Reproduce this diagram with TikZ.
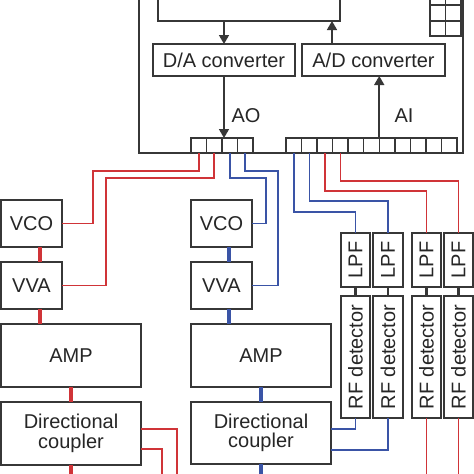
\documentclass[tikz,border=0pt]{standalone}
\usepackage{fontspec}
\setmainfont{Liberation Sans}
\usetikzlibrary{arrows.meta}
\definecolor{linec}{RGB}{55,55,55}
\definecolor{redc}{RGB}{208,52,56}
\definecolor{bluec}{RGB}{58,84,166}
\tikzset{
  blk/.style={draw=linec, line width=1.6pt, inner sep=0pt, outer sep=0pt, fill=white,
    font=\fontsize{20pt}{19.5pt}\selectfont, align=center, text=black!85},
  cell/.style={draw=linec, line width=1.4pt, inner sep=0pt, outer sep=0pt,
    minimum width=15.5pt, minimum height=15pt},
  redl/.style={draw=redc, line width=1.6pt},
  bluel/.style={draw=bluec, line width=1.6pt},
  redt/.style={draw=redc, line width=4.6pt},
  bluet/.style={draw=bluec, line width=4.6pt},
  blkt/.style={draw=linec, line width=2.6pt},
  arr/.style={draw=linec, line width=1.6pt, -{Triangle[width=10pt,length=9pt]}},
  lbl/.style={font=\fontsize{20pt}{15pt}\selectfont, text=black!85, inner sep=0pt}
}
\begin{document}
\begin{tikzpicture}[x=1pt,y=-1pt]
\useasboundingbox (0,0) rectangle (474,474);
\clip (0,0) rectangle (474,474);
\coordinate (bot) at (0,480);
% computer
\node[blk, minimum width=324pt, minimum height=173pt] (pc) at (301,66.5) {};
\node[blk, minimum width=182pt, minimum height=41pt] (cpu) at (249,0.5) {};
\draw[linec, line width=1.4pt] (430,-10) rectangle (461,36);
\draw[linec, line width=1.4pt] (445.5,-10) -- (445.5,36);
\draw[linec, line width=1.4pt] (430,5) -- (461,5);
\draw[linec, line width=1.4pt] (430,21) -- (461,21);
\node[blk, minimum width=142pt, minimum height=32pt] (da) at (224,60) {D/A converter};
\node[blk, minimum width=143pt, minimum height=32pt] (ad) at (373.5,60) {A/D converter};
\foreach \i in {1,...,4} {
  \node[cell] (ao\i) at ({191+15.5*(\i-0.5)},145.5) {};
}
\foreach \i in {1,...,11} {
  \node[cell] (ai\i) at ({286+15.545*(\i-0.5)},145.5) {};
}
\draw[arr] (da.north |- cpu.south) -- (da.north);
\draw[arr] (ad.north -| 332,0) -- (cpu.south -| 332,0);
\draw[arr] (da.south) -- (da.south |- ao2.north);
\draw[arr] (ai6.north east) -- (ai6.north east |- ad.south);
\node[lbl] (aolbl) at (246,116) {AO};
\node[lbl] (ailbl) at (404,116) {AI};
% left chain
\node[blk, minimum width=61pt, minimum height=47pt] (vco1) at (31.5,223.5) {VCO};
\node[blk, minimum width=61pt, minimum height=47pt] (vva1) at (31.5,285.5) {VVA};
\node[blk, minimum width=140pt, minimum height=63pt] (amp1) at (71,355.5) {AMP};
\node[blk, minimum width=140pt, minimum height=63pt] (dc1) at (71,433.5) {Directional\\coupler};
% right chain
\node[blk, minimum width=61pt, minimum height=47pt] (vco2) at (221.5,223.5) {VCO};
\node[blk, minimum width=61pt, minimum height=47pt] (vva2) at (221.5,285.5) {VVA};
\node[blk, minimum width=140pt, minimum height=63pt] (amp2) at (261,355.5) {AMP};
\node[blk, minimum width=140pt, minimum height=62pt] (dc2) at (261,433) {Directional\\coupler};
% LPF and RF detectors
\foreach \n/\x/\w in {1/355.5/29,2/388/30,3/426.5/29,4/458.5/29} {
  \node[blk, minimum width=\w pt, minimum height=54pt] (lpf\n) at (\x,260) {\rotatebox{90}{LPF}};
  \node[blk, minimum width=\w pt, minimum height=122pt] (rf\n) at (\x,357) {\rotatebox{90}{RF detector}};
  \draw[blkt] (lpf\n.south) -- (rf\n.north);
}
% AO lines
\draw[redl] (ao1.south) -- (ao1.south |- 0,171) -- (93,171) |- (vco1.east);
\draw[redl] (ao2.south) -- (ao2.south |- 0,178) -- (106,178) |- (vva1.east);
\draw[bluel] (ao3.south) -- (ao3.south |- 0,178) -- (266,178) |- (vco2.east);
\draw[bluel] (ao4.south) -- (ao4.south |- 0,171) -- (278,171) |- (vva2.east);
% AI lines
\draw[bluel] (ai1.south) -- (ai1.south |- 0,212) -| (lpf1.north);
\draw[bluel] (ai2.south) -- (ai2.south |- 0,201) -| (lpf2.north);
\draw[redl] (ai3.south) -- (ai3.south |- 0,191) -| (lpf3.north);
\draw[redl] (ai4.south) -- (ai4.south |- 0,181) -| (lpf4.north);
% thick RF path
\draw[redt] (vco1.south -| 40,0) -- (vva1.north -| 40,0);
\draw[redt] (vva1.south -| 40,0) -- (amp1.north -| 40,0);
\draw[redt] (amp1.south) -- (dc1.north);
\draw[redt] (dc1.south) -- (dc1.south |- bot);
\draw[bluet] (vco2.south -| 229,0) -- (vva2.north -| 229,0);
\draw[bluet] (vva2.south -| 229,0) -- (amp2.north -| 229,0);
\draw[bluet] (amp2.south) -- (dc2.north);
\draw[bluet] (dc2.south) -- (dc2.south |- bot);
% coupler outputs
\draw[redl] (dc1.east |- 0,429) -| (177,480);
\draw[redl] (dc1.east |- 0,449) -| (162,480);
\draw[bluel] (dc2.east |- 0,429) -| (rf1.south);
\draw[bluel] (dc2.east |- 0,450) -| (rf2.south);
\draw[redl] (rf3.south) -- (rf3.south |- bot);
\draw[redl] (rf4.south) -- (rf4.south |- bot);
\end{tikzpicture}
\end{document}
